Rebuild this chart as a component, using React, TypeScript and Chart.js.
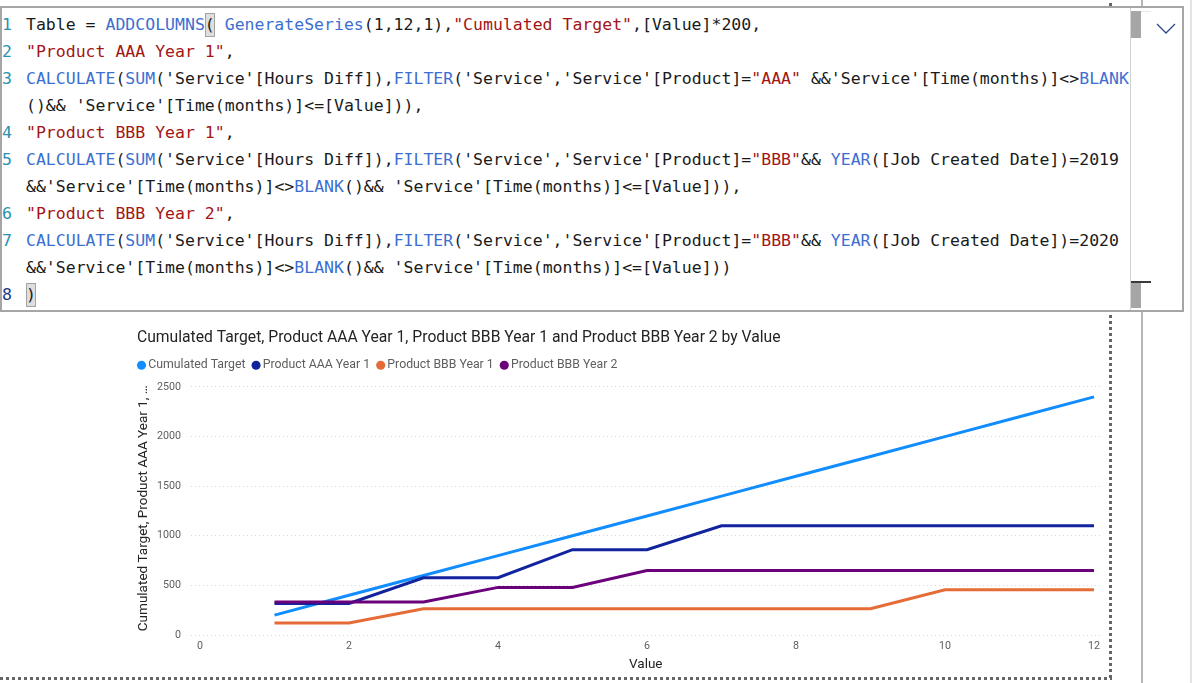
import React, { useEffect, useRef } from "react";
import { Chart, registerables } from "chart.js";

Chart.register(...registerables);

// ---------- data ----------
const xValues = [1, 2, 3, 4, 5, 6, 7, 8, 9, 10, 11, 12];
const cumulatedTarget = [200, 400, 600, 800, 1000, 1200, 1400, 1600, 1800, 2000, 2200, 2400];
const productAAAYear1 = [318, 318, 577, 577, 860, 860, 1100, 1100, 1100, 1100, 1100, 1100];
const productBBBYear1 = [120, 120, 265, 265, 265, 265, 265, 265, 265, 456, 456, 456];
const productBBBYear2 = [333, 333, 333, 480, 480, 651, 651, 651, 651, 651, 651, 651];
const xTickValues = [0, 2, 4, 6, 8, 10, 12];
const yTickValues = [0, 500, 1000, 1500, 2000, 2500];
const seriesNames = ["Cumulated Target", "Product AAA Year 1", "Product BBB Year 1", "Product BBB Year 2"];
const chartTitle = "Cumulated Target, Product AAA Year 1, Product BBB Year 1 and Product BBB Year 2 by Value";
const yAxisTitle = "Cumulated Target, Product AAA Year 1, \u2026";
const xAxisTitle = "Value";

// ---------- code editor text ----------
const codeRows: { num?: number; text: string; hl?: number }[] = [
  { num: 1, text: 'Table = ADDCOLUMNS( GenerateSeries(1,12,1),"Cumulated Target",[Value]*200,', hl: 18 },
  { num: 2, text: '"Product AAA Year 1",' },
  { num: 3, text: "CALCULATE(SUM('Service'[Hours Diff]),FILTER('Service','Service'[Product]=\"AAA\" &&'Service'[Time(months)]<>BLANK" },
  { text: "()&& 'Service'[Time(months)]<=[Value]))," },
  { num: 4, text: '"Product BBB Year 1",' },
  { num: 5, text: "CALCULATE(SUM('Service'[Hours Diff]),FILTER('Service','Service'[Product]=\"BBB\"&& YEAR([Job Created Date])=2019" },
  { text: "&&'Service'[Time(months)]<>BLANK()&& 'Service'[Time(months)]<=[Value]))," },
  { num: 6, text: '"Product BBB Year 2",' },
  { num: 7, text: "CALCULATE(SUM('Service'[Hours Diff]),FILTER('Service','Service'[Product]=\"BBB\"&& YEAR([Job Created Date])=2020" },
  { text: "&&'Service'[Time(months)]<>BLANK()&& 'Service'[Time(months)]<=[Value]))" },
  { num: 8, text: ")", hl: 0 },
];
const FUNCS = new Set(["ADDCOLUMNS", "GenerateSeries", "CALCULATE", "SUM", "FILTER", "BLANK", "YEAR"]);

const COL_TEXT = "#1a1a1a";
const COL_FUNC = "#3c6fd1";
const COL_STR = "#a31515";

function tokens(s: string, keyBase: string) {
  const out: React.ReactNode[] = [];
  const re = /("[^"]*")|([A-Za-z]+)|([^"A-Za-z]+)/g;
  let m: RegExpExecArray | null;
  let i = 0;
  while ((m = re.exec(s))) {
    let color = COL_TEXT;
    if (m[1]) color = COL_STR;
    else if (m[2] && FUNCS.has(m[2])) color = COL_FUNC;
    out.push(
      <span key={keyBase + i++} style={{ color }}>
        {m[0]}
      </span>
    );
  }
  return out;
}

function CodeRow({ row }: { row: { num?: number; text: string; hl?: number } }) {
  let content: React.ReactNode[];
  if (row.hl !== undefined) {
    const a = row.text.slice(0, row.hl);
    const c = row.text[row.hl];
    const b = row.text.slice(row.hl + 1);
    content = [
      ...tokens(a, "a"),
      <span
        key="hl"
        style={{
          display: "inline-block",
          lineHeight: "24px",
          height: 24,
          verticalAlign: "middle",
          background: "#dedede",
          boxShadow: "inset 0 0 0 1px #a3a3a3",
          color: COL_TEXT,
        }}
      >
        {c}
      </span>,
      ...tokens(b, "b"),
    ];
  } else {
    content = tokens(row.text, "t");
  }
  return (
    <>
      {row.num !== undefined && (
        <span style={{ position: "absolute", left: 2, top: 0, color: row.num === 8 ? "#1b3a86" : "#2b91af" }}>{row.num}</span>
      )}
      <span style={{ position: "absolute", left: 26, top: 0, whiteSpace: "pre" }}>{content}</span>
    </>
  );
}

const COLORS = ["#118DFF", "#12239E", "#E66C37", "#6B007B"];

export default function App() {
  const canvasRef = useRef<HTMLCanvasElement | null>(null);

  useEffect(() => {
    const canvas = canvasRef.current;
    if (!canvas) return;
    const series = [cumulatedTarget, productAAAYear1, productBBBYear1, productBBBYear2];
    const shiftBlocks = {
      id: "shiftBlocks",
      afterLayout(chart: any) {
        const t = chart.titleBlock;
        if (t) {
          t.left += 8;
          t.right += 8;
        }
        const l = chart.legend;
        if (l) {
          l.left += 2;
          l.right += 2;
        }
      },
    };
    const chart = new Chart(canvas, {
      type: "line",
      data: {
        datasets: series.map((vals, i) => ({
          label: seriesNames[i],
          data: xValues.map((x, j) => ({ x, y: vals[j] })),
          borderColor: COLORS[i],
          backgroundColor: COLORS[i],
          borderWidth: 3,
          pointRadius: 0,
          pointHoverRadius: 0,
          tension: 0,
          fill: false,
          order: 4 - i,
        })),
      },
      options: {
        animation: false,
        responsive: false,
        layout: { padding: { left: 0, top: 0, right: 10, bottom: 0 } },
        plugins: {
          tooltip: { enabled: false },
          title: {
            display: true,
            text: chartTitle,
            align: "start",
            color: "#252423",
            font: { family: "Roboto", size: 15.7, weight: "normal" },
            padding: { top: 10.8, bottom: 1.43 },
          },
          legend: {
            display: true,
            position: "top",
            align: "start",
            labels: {
              usePointStyle: true,
              pointStyle: "circle",
              boxWidth: 1,
              boxHeight: 6.4,
              padding: 10,
              color: "#605E5C",
              font: { family: "Roboto", size: 12.3 },
              generateLabels: (c: any) =>
                Chart.defaults.plugins.legend.labels
                  .generateLabels(c)
                  .map((l: any) => ({ ...l, lineWidth: 0 }))
                  .sort((a: any, b: any) => a.datasetIndex - b.datasetIndex),
            },
          },
        },
        scales: {
          x: {
            type: "linear",
            min: -0.1275,
            max: 12.094,
            grid: { display: false },
            border: { display: false },
            afterBuildTicks: (s: any) => {
              s.ticks = xTickValues.map((v) => ({ value: v }));
            },
            ticks: {
              maxRotation: 0,
              autoSkip: false,
              padding: -3.5,
              color: "#605E5C",
              font: { family: "Roboto", size: 10.7 },
              callback: (v: any) => String(v),
            },
            title: {
              display: true,
              text: xAxisTitle,
              color: "#252423",
              font: { family: "Roboto", size: 13.5 },
              padding: { top: 0, bottom: 4.9 },
            },
            afterFit: (s: any) => {
              s.height = 43;
            },
          },
          y: {
            type: "linear",
            min: 0,
            max: 2556.6,
            grid: { color: "#d6d6d6", lineWidth: 1, drawTicks: false },
            border: { display: false, dash: [1, 3] },
            afterBuildTicks: (s: any) => {
              s.ticks = yTickValues.map((v) => ({ value: v }));
            },
            ticks: {
              padding: 9.5,
              color: "#605E5C",
              font: { family: "Roboto", size: 10.7 },
              callback: (v: any) => String(v),
            },
            title: {
              display: true,
              text: yAxisTitle,
              color: "#252423",
              font: { family: "Roboto", size: 13.5 },
              padding: { top: 6.9, bottom: 0 },
            },
            afterFit: (s: any) => {
              s.width = 61.5;
            },
          },
        },
      } as any,
      plugins: [shiftBlocks],
    });
    return () => chart.destroy();
  }, []);

  return (
    <div
      style={{
        position: "absolute",
        left: 0,
        top: 0,
        width: 1193,
        height: 683,
        background: "#ffffff",
        overflow: "hidden",
        fontFamily: "Roboto, sans-serif",
      }}
    >
      {/* background panel lines */}
      <div style={{ position: "absolute", left: 1141, top: 0, width: 2, height: 683, background: "#b8b6b4" }} />
      <div style={{ position: "absolute", left: 1190, top: 0, width: 2, height: 683, background: "#e4e4e4" }} />
      {/* dotted visual border */}
      <div
        style={{
          position: "absolute",
          left: 1109,
          top: 3,
          width: 3,
          height: 677,
          background: "repeating-linear-gradient(to bottom, #666 0px, #666 3px, transparent 3px, transparent 6px)",
        }}
      />
      <div
        style={{
          position: "absolute",
          left: 0,
          top: 677,
          width: 1112,
          height: 3,
          background: "repeating-linear-gradient(to right, #666 0px, #666 3px, transparent 3px, transparent 6px)",
        }}
      />

      {/* chart */}
      <div style={{ position: "absolute", left: 129, top: 318, width: 982, height: 360 }}>
        <canvas ref={canvasRef} width={982} height={360} style={{ display: "block" }} />
      </div>

      {/* code editor */}
      <div
        style={{
          position: "absolute",
          left: 0,
          top: 6,
          width: 1184,
          height: 306,
          boxSizing: "border-box",
          border: "2px solid #a6a6a6",
          background: "#ffffff",
        }}
      />
      <div
        style={{
          position: "absolute",
          left: 0,
          top: 0,
          width: 1130,
          height: 312,
          fontFamily: "'DejaVu Sans Mono', monospace",
          fontSize: 16.5,
        }}
      >
        {codeRows.map((row, i) => (
          <div
            key={i}
            style={{ position: "absolute", left: 0, top: 10.8 + 27 * i, height: 27, lineHeight: "27px", width: 1130 }}
          >
            <CodeRow row={row} />
          </div>
        ))}
      </div>
      {/* scrollbar */}
      <div style={{ position: "absolute", left: 1130, top: 8, width: 1, height: 302, background: "#d2d2d2" }} />
      <div style={{ position: "absolute", left: 1131, top: 11, width: 20, height: 1, background: "#e6e6e6" }} />
      <div style={{ position: "absolute", left: 1131, top: 11, width: 10, height: 27, background: "#a6a6a6" }} />
      <div style={{ position: "absolute", left: 1131, top: 281, width: 20, height: 2, background: "#3a3a3a" }} />
      <div style={{ position: "absolute", left: 1131, top: 283, width: 10, height: 25, background: "#a6a6a6" }} />
      {/* chevron */}
      <svg style={{ position: "absolute", left: 1155, top: 22 }} width={22} height={14}>
        <polyline points="2,2 11,11 20,2" fill="none" stroke="#2b4a8b" strokeWidth={1.3} />
      </svg>
    </div>
  );
}
